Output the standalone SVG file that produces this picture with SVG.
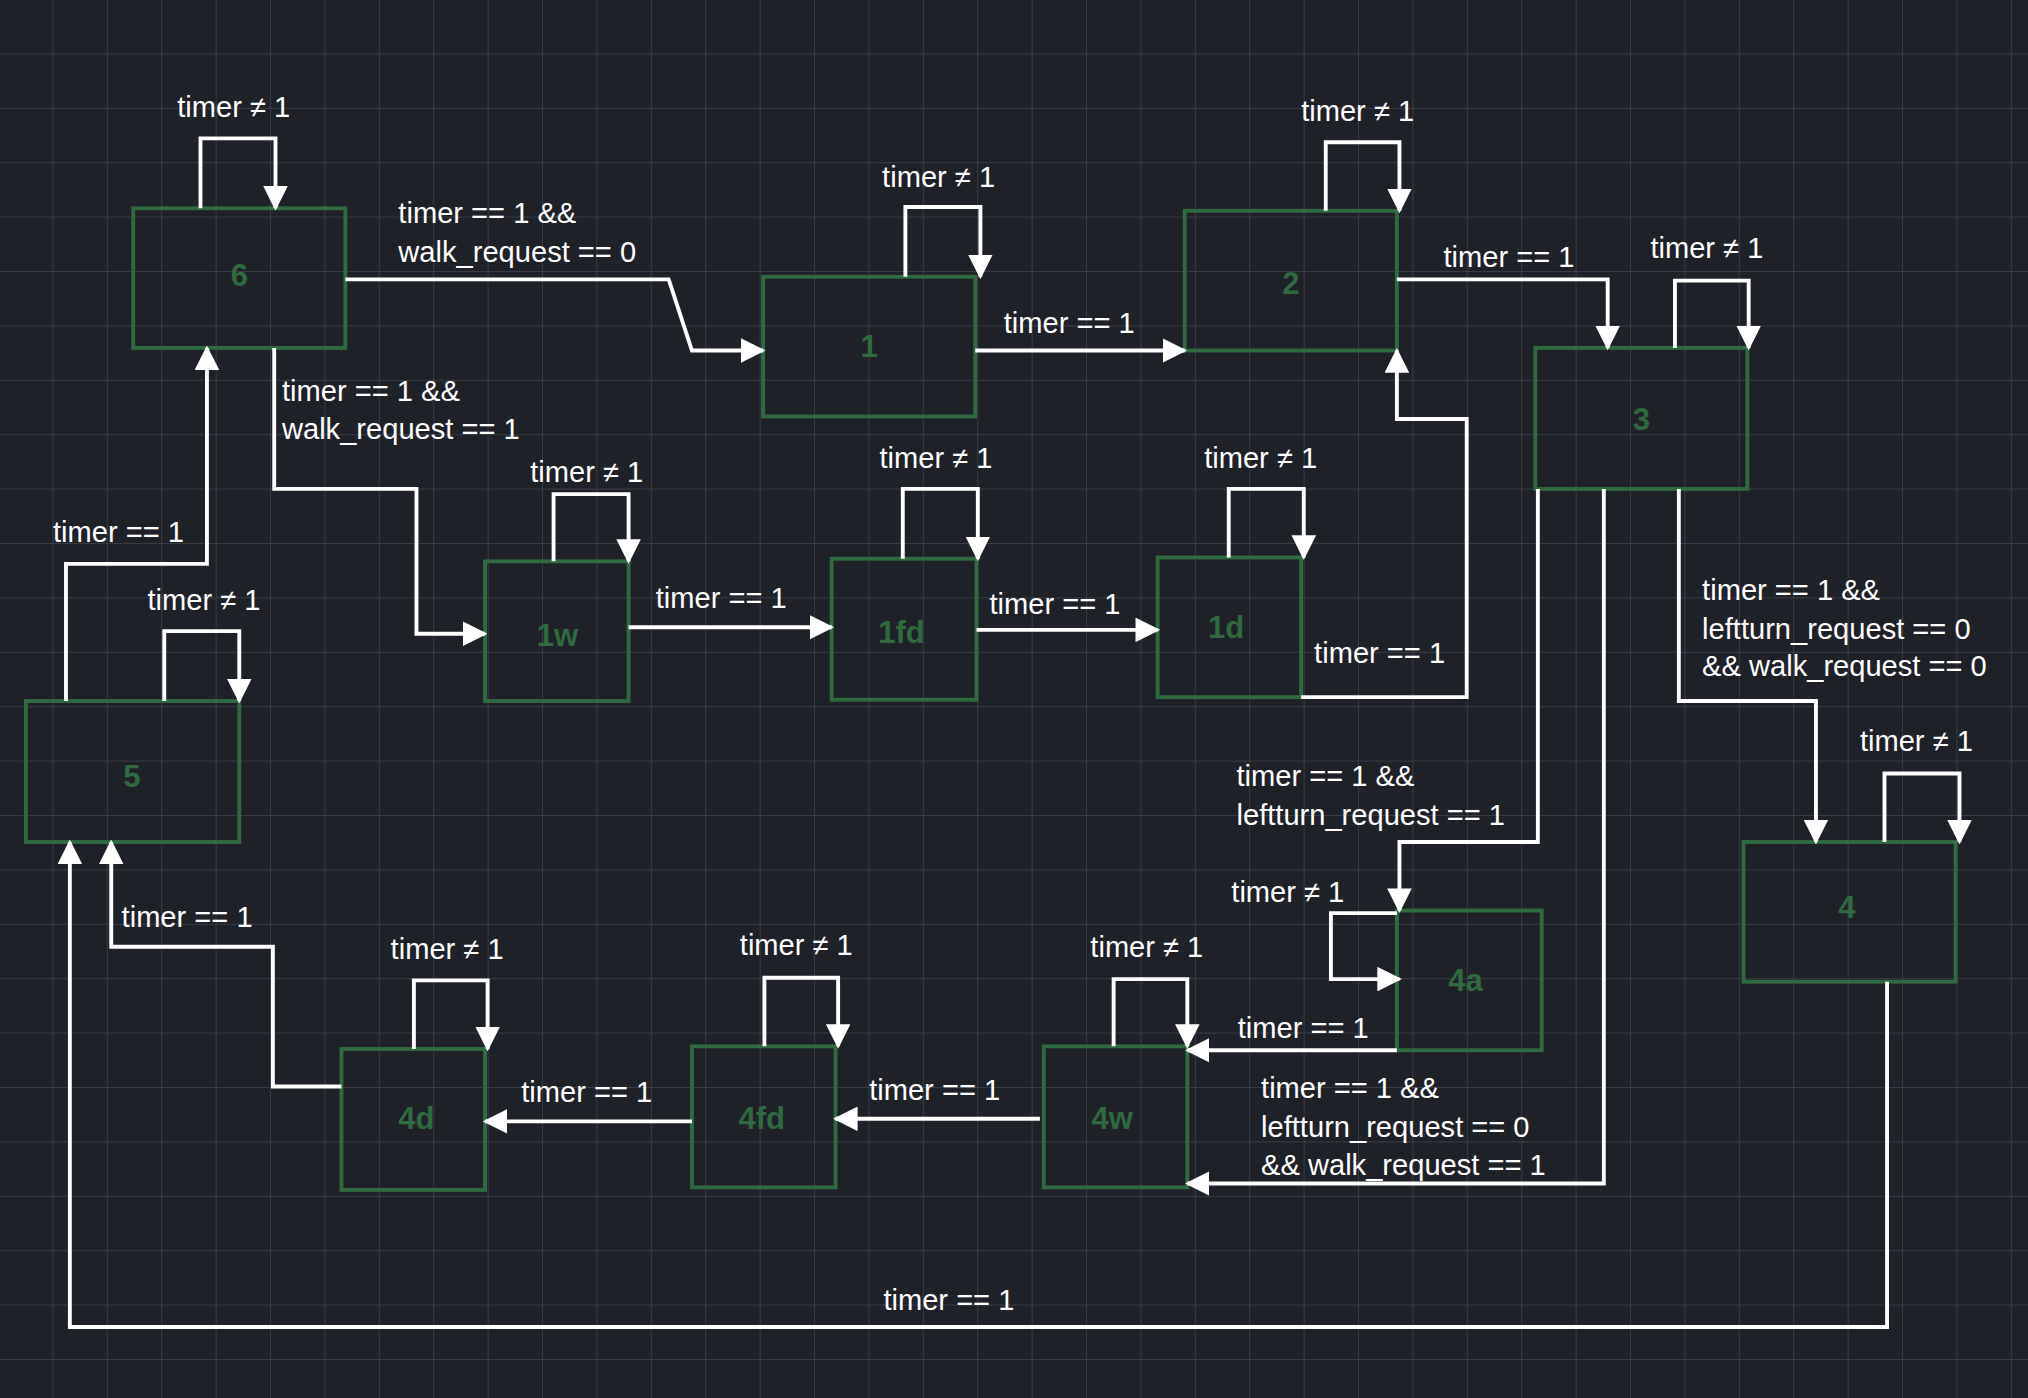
<svg xmlns="http://www.w3.org/2000/svg" width="2028" height="1398" viewBox="0 0 2028 1398">
<defs>
<pattern id="grid" width="54.4" height="54.4" patternUnits="userSpaceOnUse" x="-1" y="0">
<path d="M54.4 0V54.4H0" fill="none" stroke="#41454e" stroke-width="1.4"/>
</pattern>
<marker id="ah" viewBox="0 0 10 10" refX="9" refY="5" markerWidth="19" markerHeight="19" markerUnits="userSpaceOnUse" orient="auto">
<path d="M0 0L10 5L0 10z" fill="#fff"/>
</marker>
<style>
.n rect{fill:none;stroke:#2e6b3f;stroke-width:3}
.n text{fill:#2e6b3f;font:bold 24px "Liberation Sans",Arial,sans-serif;text-anchor:middle;dominant-baseline:central}
.e path{fill:none;stroke:#fff;stroke-width:3;marker-end:url(#ah)}
.l{fill:#fff;font:22.5px "Liberation Sans",Arial,sans-serif;dominant-baseline:central}
</style>
</defs>
<rect width="2028" height="1398" fill="#1f2129"/>
<rect width="2028" height="1398" fill="url(#grid)"/>
<g transform="scale(1.2934)">
<g id="n6" class="n"><rect x="103" y="161" width="164" height="108"/><text x="185" y="213">6</text></g>
<g id="n1" class="n"><rect x="590" y="214" width="164" height="108"/><text x="672" y="268">1</text></g>
<g id="n2" class="n"><rect x="916" y="163" width="164" height="108"/><text x="998" y="219">2</text></g>
<g id="n3" class="n"><rect x="1187" y="269" width="164" height="109"/><text x="1269" y="324">3</text></g>
<g id="n1w" class="n"><rect x="375" y="434" width="111" height="108"/><text x="431" y="491">1w</text></g>
<g id="n1fd" class="n"><rect x="643" y="432" width="112" height="109"/><text x="697" y="489">1fd</text></g>
<g id="n1d" class="n"><rect x="895" y="431" width="111" height="108"/><text x="948" y="485">1d</text></g>
<g id="n5" class="n"><rect x="20" y="542" width="165" height="109"/><text x="102" y="600">5</text></g>
<g id="n4" class="n"><rect x="1348" y="651" width="164" height="108"/><text x="1428" y="702">4</text></g>
<g id="n4a" class="n"><rect x="1080" y="704" width="112" height="108"/><text x="1133" y="758">4a</text></g>
<g id="n4d" class="n"><rect x="264" y="811" width="111" height="109"/><text x="322" y="865">4d</text></g>
<g id="n4fd" class="n"><rect x="535" y="809" width="111" height="109"/><text x="589" y="865">4fd</text></g>
<g id="n4w" class="n"><rect x="807" y="809" width="111" height="109"/><text x="860" y="865">4w</text></g>
<g id="edges" class="e">
<path d="M155 161V107H213V161"/>
<path d="M700 214V160H758V214"/>
<path d="M1025 163V110H1082V163"/>
<path d="M1295 269V217H1352V269"/>
<path d="M428 434V382H486V434"/>
<path d="M698 432V378H756V432"/>
<path d="M950 431V378H1008V431"/>
<path d="M127 542V488H185V542"/>
<path d="M1457 651V598H1515V651"/>
<path d="M320 811V758H377V811"/>
<path d="M591 809V756H648V809"/>
<path d="M861 809V757H918V809"/>
<path d="M1080 706H1029V757H1082"/>
<path d="M267 216H517L535 271H590"/>
<path d="M754 271H916"/>
<path d="M1080 216H1243V269"/>
<path d="M212 269V378H322V490H375"/>
<path d="M486 485H643"/>
<path d="M755 487H895"/>
<path d="M1006 539H1134V324H1080V271"/>
<path d="M1189 378V651H1082V704"/>
<path d="M1240 378V915H918"/>
<path d="M1298 378V542H1404V651"/>
<path d="M1080 812H918"/>
<path d="M804 865H646"/>
<path d="M535 867H375"/>
<path d="M264 840H211V732H86V651"/>
<path d="M1459 759V1026H54V651"/>
<path d="M51 542V436H160V269"/>
</g>
<g id="labels" class="l">
<text x="137" y="83">timer ≠ 1</text>
<text x="682" y="137">timer ≠ 1</text>
<text x="1006" y="86">timer ≠ 1</text>
<text x="1276" y="192">timer ≠ 1</text>
<text x="410" y="365">timer ≠ 1</text>
<text x="680" y="354">timer ≠ 1</text>
<text x="931" y="354">timer ≠ 1</text>
<text x="114" y="464">timer ≠ 1</text>
<text x="1438" y="573">timer ≠ 1</text>
<text x="302" y="734">timer ≠ 1</text>
<text x="572" y="731">timer ≠ 1</text>
<text x="843" y="732">timer ≠ 1</text>
<text x="952" y="690">timer ≠ 1</text>
<text x="308" y="165">timer == 1 &amp;&amp;</text>
<text x="308" y="195">walk_request == 0</text>
<text x="776" y="250">timer == 1</text>
<text x="1116" y="199">timer == 1</text>
<text x="218" y="302">timer == 1 &amp;&amp;</text>
<text x="218" y="332">walk_request == 1</text>
<text x="507" y="462">timer == 1</text>
<text x="765" y="467">timer == 1</text>
<text x="1016" y="505">timer == 1</text>
<text x="956" y="600">timer == 1 &amp;&amp;</text>
<text x="956" y="630">leftturn_request == 1</text>
<text x="975" y="841">timer == 1 &amp;&amp;</text>
<text x="975" y="871">leftturn_request == 0</text>
<text x="975" y="901">&amp;&amp; walk_request == 1</text>
<text x="1316" y="456">timer == 1 &amp;&amp;</text>
<text x="1316" y="486">leftturn_request == 0</text>
<text x="1316" y="515">&amp;&amp; walk_request == 0</text>
<text x="957" y="795">timer == 1</text>
<text x="672" y="843">timer == 1</text>
<text x="403" y="844">timer == 1</text>
<text x="94" y="709">timer == 1</text>
<text x="683" y="1005">timer == 1</text>
<text x="41" y="411">timer == 1</text>
</g>
</g>
</svg>
